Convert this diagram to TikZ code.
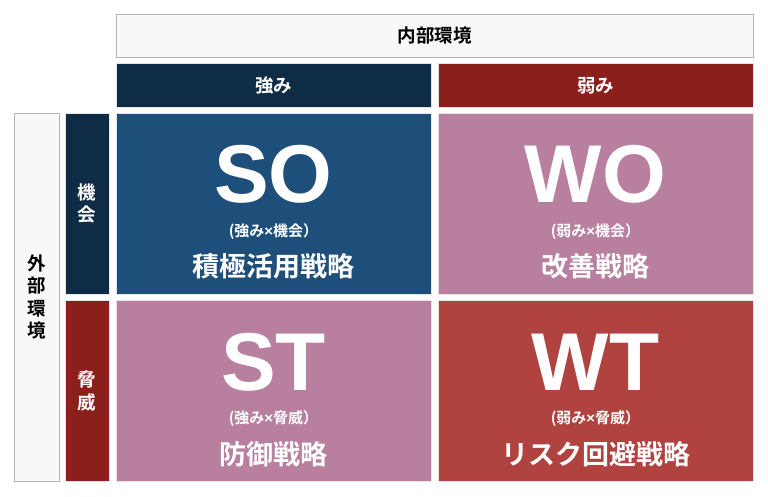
\documentclass[tikz,border=0pt]{standalone}
\usepackage{fontspec}
\newfontfamily\jp{Noto Sans CJK JP}[BoldFont={Noto Sans CJK JP Bold}]
\newfontfamily\lat{Liberation Sans}
\definecolor{navy}{HTML}{0F2C46}
\definecolor{dred}{HTML}{8A1F1C}
\definecolor{soblue}{HTML}{1E4F7B}
\definecolor{mauve}{HTML}{B87F9F}
\definecolor{wtred}{HTML}{B0433F}
\definecolor{light}{HTML}{F8F8F8}
\definecolor{lborder}{HTML}{B5B5B5}
\newcommand{\tms}{{\lat\bfseries ×}}
\tikzset{
  lightbox/.style={fill=light,draw=lborder,line width=0.9pt,inner sep=0pt,text=black},
  colbox/.style={draw=white!80!gray,line width=0.7pt,inner sep=0pt,text=white},
  hdr/.style={font=\jp\bfseries\fontsize{18.5}{18.5}\selectfont},
  vtxt/.style={font=\jp\bfseries\fontsize{18.5}{22.5}\selectfont,align=center,inner sep=0pt},
  big/.style={text=white,inner sep=0pt,font=\lat\bfseries\fontsize{82}{82}\selectfont},
  sub/.style={text=white,inner sep=0pt,font=\jp\bfseries\fontsize{15}{15}\selectfont},
  mainjp/.style={text=white,inner sep=0pt,font=\jp\bfseries\fontsize{27}{27}\selectfont},
}
\begin{document}
\begin{tikzpicture}[x=1pt,y=-1pt]
\useasboundingbox (0,0) rectangle (768,497);
% headers
\node[lightbox,hdr,minimum width=637,minimum height=43] (naibu) at (434.5,36) {内部環境};
\node[colbox,fill=navy,hdr,minimum width=315,minimum height=44] (tsuyomi) at (273.5,85.5) {強み};
\node[colbox,fill=dred,hdr,minimum width=315,minimum height=44] (yowami) at (595.5,85.5) {弱み};
% left
\node[lightbox,vtxt,minimum width=45,minimum height=368] (gaibu) at (36.5,297) {外\\部\\環\\境};
\node[colbox,fill=navy,vtxt,minimum width=44,minimum height=181] (kikai) at (87,203.5) {機\\会};
\node[colbox,fill=dred,vtxt,minimum width=44,minimum height=181] (kyoui) at (87,391) {脅\\威};
% quadrants
\node[colbox,fill=soblue,minimum width=315,minimum height=181] (so) at (273.5,203.5) {};
\node[colbox,fill=mauve,minimum width=315,minimum height=181] (wo) at (595.5,203.5) {};
\node[colbox,fill=mauve,minimum width=315,minimum height=181] (st) at (273.5,391) {};
\node[colbox,fill=wtred,minimum width=315,minimum height=181] (wt) at (595.5,391) {};
% SO
\node[big] (soT) at ([yshift=29]so.center) {SO};
\node[sub] (soS) at ([yshift=-28]so.center) {(強み\tms 機会）};
\node[mainjp] (soM) at ([yshift=-63]so.center) {積極活用戦略};
% WO
\node[big] (woT) at ([yshift=29]wo.center) {WO};
\node[sub] (woS) at ([yshift=-28]wo.center) {(弱み\tms 機会）};
\node[mainjp] (woM) at ([yshift=-63]wo.center) {改善戦略};
% ST
\node[big] (stT) at ([yshift=29]st.center) {ST};
\node[sub] (stS) at ([yshift=-28]st.center) {(強み\tms 脅威）};
\node[mainjp] (stM) at ([yshift=-63]st.center) {防御戦略};
% WT
\node[big] (wtT) at ([yshift=29]wt.center) {WT};
\node[sub] (wtS) at ([yshift=-28]wt.center) {(弱み\tms 脅威）};
\node[mainjp] (wtM) at ([yshift=-63]wt.center) {リスク回避戦略};
\end{tikzpicture}
\end{document}
